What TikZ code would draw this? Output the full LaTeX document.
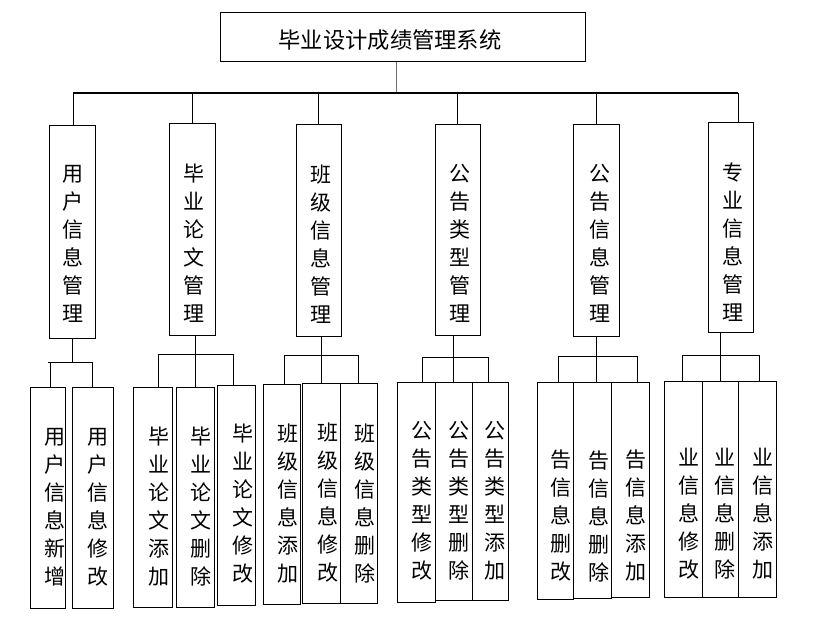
\documentclass[tikz,border=0pt]{standalone}
\usepackage{fontspec}
\usepackage{xcolor}
\usepackage{tikz}
\usetikzlibrary{positioning,calc}
\newfontfamily\cjk{Noto Sans CJK SC}
\definecolor{ink}{HTML}{000000}
\definecolor{inkfaint}{HTML}{6E6E6E}

\begin{document}
\begin{tikzpicture}[
  x=1pt, y=-1pt,
  box/.style={rectangle, draw=ink, line width=1pt, inner sep=0pt},
  txt/.style={font=\cjk\fontsize{21}{28}\selectfont, align=center, inner sep=0pt, text=ink},
  link/.style={draw=ink, line width=1pt}
]
\useasboundingbox (0,0) rectangle (832,625);

% root
\node[box, minimum width=365, minimum height=49] (sys) at (402.5,36.5) {};
\node[txt, font=\cjk\fontsize{22.3}{28}\selectfont] (syst) at (390,40) {毕业设计成绩管理系统};

% modules: name/left/right/top/bottom/text x/text y/text
\foreach \n/\l/\r/\t/\b/\tx/\ty/\s in {
  user/49/95/125/338/73/244/{用\\户\\信\\息\\管\\理},
  thesis/169/215/123/335/194/243/{毕\\业\\论\\文\\管\\理},
  class/296/341/124/336/321/244/{班\\级\\信\\息\\管\\理},
  type/435/480/124/335/460/243/{公\\告\\类\\型\\管\\理},
  notice/573/619/124/336/600/243/{公\\告\\信\\息\\管\\理},
  major/708/753/122/332/733/242/{专\\业\\信\\息\\管\\理}}
{
  \node[box, minimum width=\r-\l, minimum height=\b-\t] (\n) at ({(\l+\r)/2},{(\t+\b)/2}) {};
  \node[txt] (\n-t) at (\tx,\ty) {\s};
}

% functions
\foreach \n/\l/\r/\t/\b/\tx/\ty/\s in {
  useradd/30/65/387/608/55/507/{用\\户\\信\\息\\新\\增},
  useredit/72/113/387/608/98/507/{用\\户\\信\\息\\修\\改},
  thesisadd/133/172/387/607/159/507/{毕\\业\\论\\文\\添\\加},
  thesisdel/176/214/387/607/201/507/{毕\\业\\论\\文\\删\\除},
  thesisedit/217/255/385/605/243/504/{毕\\业\\论\\文\\修\\改},
  classadd/263/300/384/604/288/504/{班\\级\\信\\息\\添\\加},
  classedit/302/340/383/603/328/503/{班\\级\\信\\息\\修\\改},
  classdel/340/377/383/603/365/503/{班\\级\\信\\息\\删\\除},
  typeedit/397/435/382/602/422/501/{公\\告\\类\\型\\修\\改},
  typedel/435/472/382/600/459/501/{公\\告\\类\\型\\删\\除},
  typeadd/472/508/382/600/495/501/{公\\告\\类\\型\\添\\加},
  noticeedit/537/573/382/599/561/516/{告\\信\\息\\删\\改},
  noticedel/573/611/382/598/599/516/{告\\信\\息\\删\\除},
  noticeadd/611/649/382/597/636/516/{告\\信\\息\\添\\加},
  majoredit/664/702/381/597/689/514/{业\\信\\息\\修\\改},
  majordel/702/738/381/597/725/514/{业\\信\\息\\删\\除},
  majoradd/738/776/381/597/763/514/{业\\信\\息\\添\\加}}
{
  \node[box, minimum width=\r-\l, minimum height=\b-\t] (\n) at ({(\l+\r)/2},{(\t+\b)/2}) {};
  \node[txt] (\n-t) at (\tx,\ty) {\s};
}

% trunk
\coordinate (busL) at (73,93);
\coordinate (busR) at (738,93);
\coordinate (sysfoot) at ([xshift=-6]sys.south);
\draw[link, line width=0.6pt, draw=inkfaint] (sysfoot) -- (sysfoot |- busL);
\draw[link, line width=1.2pt] (busL) -- (busR);
\draw[link] (busL) -- (busL |- user.north);
\draw[link] (busR) -- (busR |- major.north);
\foreach \m in {thesis,class,type,notice}
  \draw[link] (\m.north |- busL) -- (\m.north);

% branches
\coordinate (ubarL) at (50,362);
\coordinate (ubarR) at (92,362);
\draw[link] (user.south) -- (user.south |- ubarL);
\draw[link] ([xshift=-2]ubarL) -- (ubarR);
\draw[link] (ubarL) -- (ubarL |- useradd.north);
\draw[link] (ubarR) -- (ubarR |- useredit.north);

\coordinate (tbarL) at (158,354);
\coordinate (tbarR) at (233,354);
\draw[link] (thesisdel.north |- thesis.south) -- (thesisdel.north);
\draw[link] (tbarL) -- (tbarR);
\draw[link] (tbarL) -- (tbarL |- thesisadd.north);
\draw[link] (tbarR) -- (tbarR |- thesisedit.north);

\coordinate (cbarL) at (284,355);
\coordinate (cbarR) at (358,355);
\draw[link] (classedit.north |- class.south) -- (classedit.north);
\draw[link] (cbarL) -- (cbarR);
\draw[link] (cbarL) -- (cbarL |- classadd.north);
\draw[link] (cbarR) -- (cbarR |- classdel.north);

\coordinate (ybarL) at (422,357);
\coordinate (ybarR) at (488,357);
\draw[link] (typedel.north |- type.south) -- (typedel.north);
\draw[link] (ybarL) -- (ybarR);
\draw[link] (ybarL) -- (ybarL |- typeedit.north);
\draw[link] (ybarR) -- (ybarR |- typeadd.north);

\coordinate (nbarL) at (558,356);
\coordinate (nbarR) at (637,356);
\draw[link] (notice.south) -- (notice.south |- noticedel.north);
\draw[link] (nbarL) -- (nbarR);
\draw[link] (nbarL) -- (nbarL |- noticeedit.north);
\draw[link] (nbarR) -- (nbarR |- noticeadd.north);

\coordinate (mbarL) at (682,355);
\coordinate (mbarR) at (759,355);
\draw[link] (majordel.north |- major.south) -- (majordel.north);
\draw[link] (mbarL) -- (mbarR);
\draw[link] (mbarL) -- (mbarL |- majoredit.north);
\draw[link] (mbarR) -- (mbarR |- majoradd.north);
\end{tikzpicture}
\end{document}
